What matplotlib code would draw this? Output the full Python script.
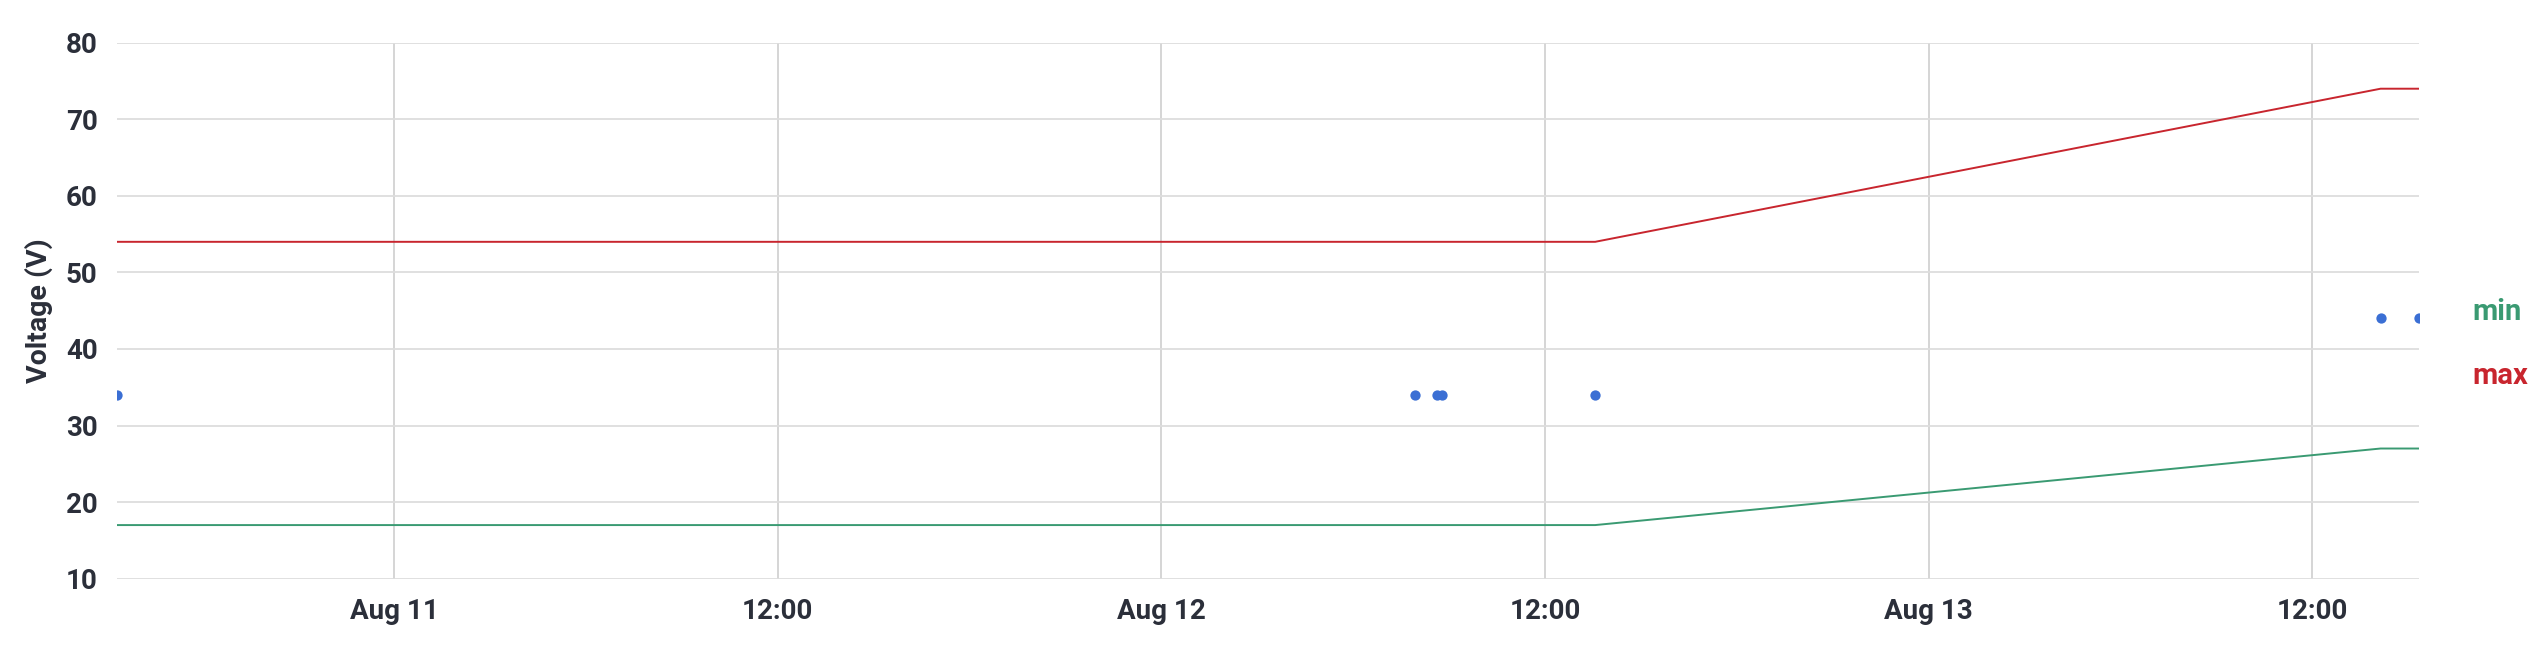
import matplotlib
matplotlib.use("Agg")
import matplotlib.pyplot as plt
import matplotlib.dates as mdates
import pandas as pd

# data
point_times = pd.to_datetime([
    "2023-08-10 15:20", "2023-08-12 07:56", "2023-08-12 08:38",
    "2023-08-12 08:46", "2023-08-12 13:34", "2023-08-13 14:08",
    "2023-08-13 15:20",
])
point_values = [34, 34, 34, 34, 34, 44, 44]

limit_times = pd.to_datetime([
    "2023-08-10 15:20", "2023-08-12 13:34", "2023-08-13 14:08", "2023-08-13 15:20",
])
min_values = [17, 17, 27, 27]
max_values = [54, 54, 74, 74]

x_start = pd.Timestamp("2023-08-10 15:20")
x_end = pd.Timestamp("2023-08-13 15:20")

text_color = "#2b2f3a"
green = "#3a9a72"
red = "#c8252e"
blue = "#3b6fd4"

plt.rcParams["font.family"] = ["Roboto", "DejaVu Sans"]

fig = plt.figure(figsize=(25.38, 6.48), dpi=100)
ax = fig.add_axes([0.0461, 0.107, 0.9070, 0.827])

ax.plot(limit_times, max_values, color=red, lw=1.4, zorder=3)
ax.plot(limit_times, min_values, color=green, lw=1.4, zorder=3)
ax.scatter(point_times, point_values, s=55, color=blue, zorder=4, linewidths=0)

ax.set_xlim(x_start, x_end)
ax.set_ylim(10, 80)
ax.set_yticks(range(10, 81, 10))

ax.xaxis.set_major_locator(mdates.HourLocator(byhour=[0, 12]))

def fmt_date(x, pos=None):
    d = mdates.num2date(x)
    if d.hour == 0:
        return d.strftime("%b %d").replace(" 0", " ")
    return d.strftime("%H:%M")

ax.xaxis.set_major_formatter(plt.FuncFormatter(fmt_date))

for s in ax.spines.values():
    s.set_visible(False)
ax.tick_params(axis="both", length=0, labelsize=20, colors=text_color)
ax.tick_params(axis="y", pad=14)
ax.tick_params(axis="x", pad=14)
for lbl in ax.get_xticklabels() + ax.get_yticklabels():
    lbl.set_fontweight("bold")

ax.grid(axis="y", color="#dddddd", lw=1.3)
ax.grid(axis="x", color="#d2d2d2", lw=1.3)
ax.set_axisbelow(True)

ax.set_ylabel("Voltage (V)", fontsize=20.5, fontweight="bold", color=text_color)
ax.yaxis.set_label_coords(-0.028, 0.5)

fig.text(0.974, 0.518, "min", color=green, fontsize=21, fontweight="bold", va="center")
fig.text(0.974, 0.420, "max", color=red, fontsize=21, fontweight="bold", va="center")

fig.savefig("out.png", dpi=100)
